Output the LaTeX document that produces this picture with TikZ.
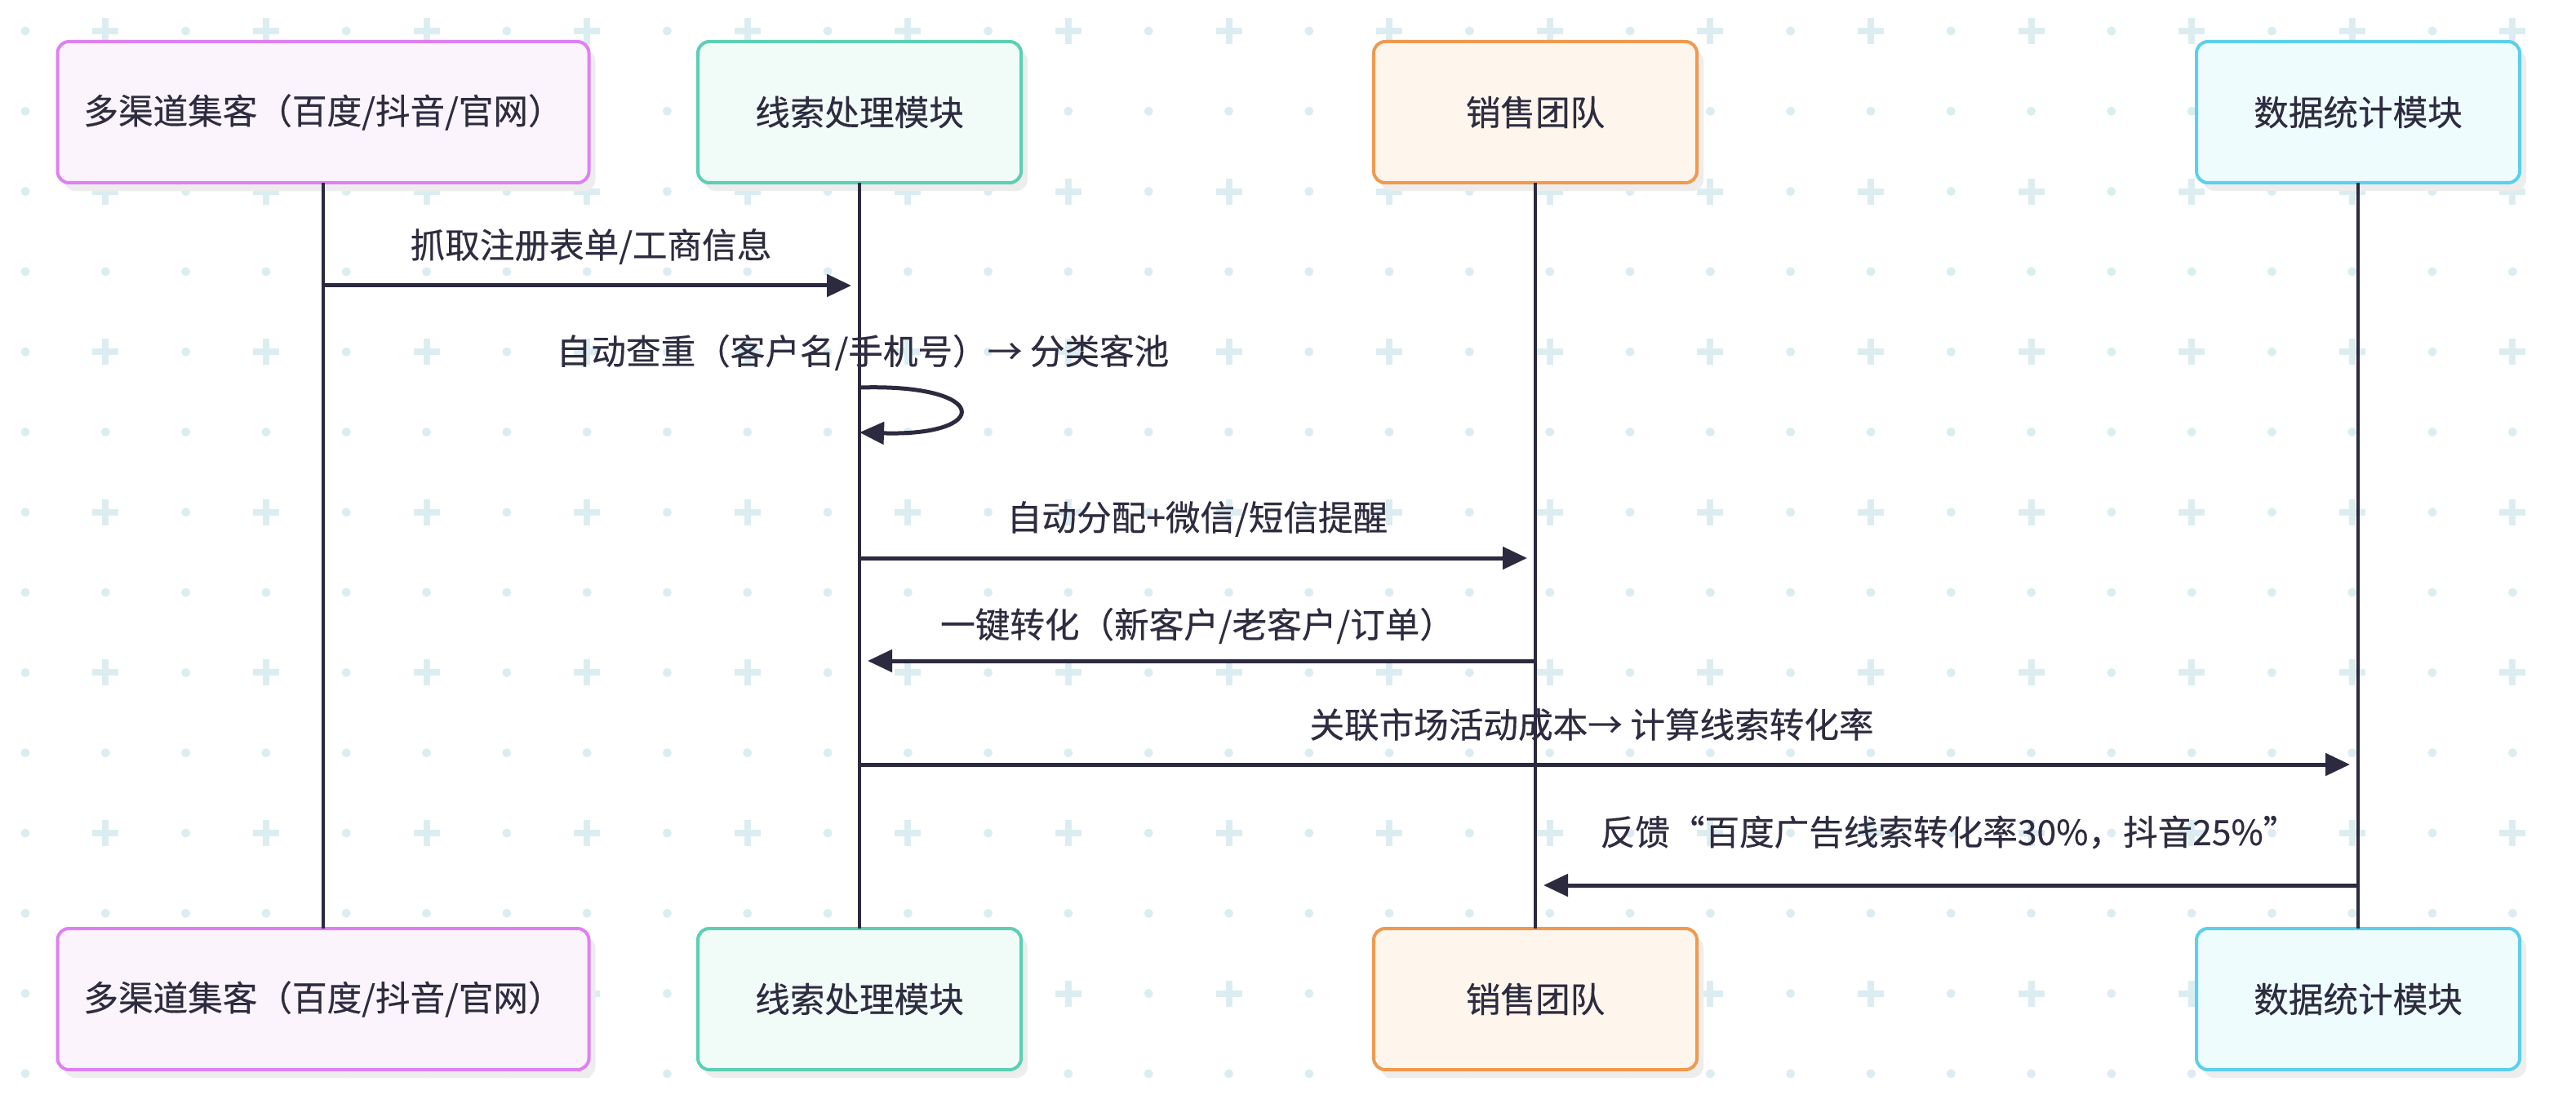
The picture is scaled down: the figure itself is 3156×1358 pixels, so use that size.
\documentclass[tikz,border=0pt]{standalone}
\usepackage{fontspec}
\setmainfont[FakeBold=0.4]{Noto Sans CJK SC}
\usetikzlibrary{arrows.meta}
\definecolor{lnc}{HTML}{2B2A3F}
\definecolor{txt}{HTML}{2E2C40}
\definecolor{dotc}{HTML}{DCEDF1}
\definecolor{shd}{HTML}{EDEDED}
\definecolor{sa}{HTML}{DF80F2}\definecolor{fa}{HTML}{FBF4FC}
\definecolor{sb}{HTML}{5DCFB2}\definecolor{fb}{HTML}{F1FCF8}
\definecolor{sc}{HTML}{EF9A4E}\definecolor{fc}{HTML}{FEF6EC}
\definecolor{sd}{HTML}{5CD0EA}\definecolor{fd}{HTML}{EEFCFE}
\tikzset{
  actor/.style={rounded corners=7pt, line width=2pt, minimum height=86.5pt,
    inner sep=0pt, outer sep=0pt, font=\fontsize{21.3}{25}\selectfont, text=txt},
  wideactor/.style={actor, minimum width=325.5pt},
  narrowactor/.style={actor, minimum width=198pt},
  shadowbox/.style={fill=shd, rounded corners=7pt},
  life/.style={draw=lnc, line width=2pt},
  msg/.style={draw=lnc, line width=2.5pt, -{Triangle[length=15pt,width=13.5pt]}, shorten >=5pt},
  lbl/.style={font=\fontsize{21.3}{25}\selectfont, text=txt, inner sep=0pt}
}
\begin{document}
\begin{tikzpicture}[x=0.5pt,y=-0.5pt]
\useasboundingbox (0,0) rectangle (3156,1358);
\fill[white] (0,0) rectangle (3156,1358);
\foreach \j in {1,3,...,13}{
  \foreach \i in {0,...,31}{
    \fill[dotc] ({31+98.3*\i},{38+98.3*\j}) circle (2.75pt);
  }}
\foreach \j in {0,2,...,12}{
  \foreach \i in {0,2,...,30}{
    \fill[dotc] ({31+98.3*\i},{38+98.3*\j}) circle (2.75pt);
  }
  \foreach \i in {1,3,...,31}{
    \fill[dotc] ([xshift=-8pt,yshift=-2pt]{31+98.3*\i},{38+98.3*\j}) rectangle ([xshift=8pt,yshift=2pt]{31+98.3*\i},{38+98.3*\j});
    \fill[dotc] ([xshift=-2pt,yshift=-8pt]{31+98.3*\i},{38+98.3*\j}) rectangle ([xshift=2pt,yshift=8pt]{31+98.3*\i},{38+98.3*\j});
  }}
\foreach \cx/\w in {396/325.5, 1053/198, 1881/198, 2889/198}{
  \foreach \cy in {137.5, 1224.5}{
    \fill[shadowbox] ([xshift={-\w/2*1pt+4pt}, yshift={-43.25pt-5pt}]\cx,\cy) rectangle ([xshift={\w/2*1pt+4pt}, yshift={43.25pt-5pt}]\cx,\cy);
  }}
\node[wideactor, draw=sa, fill=fa] (a1) at (396,137.5) {多渠道集客（百度/抖音/官网）};
\node[narrowactor, draw=sb, fill=fb] (b1) at (1053,137.5) {线索处理模块};
\node[narrowactor, draw=sc, fill=fc] (c1) at (1881,137.5) {销售团队};
\node[narrowactor, draw=sd, fill=fd] (d1) at (2889,137.5) {数据统计模块};
\node[wideactor, draw=sa, fill=fa] (a2) at (396,1224.5) {多渠道集客（百度/抖音/官网）};
\node[narrowactor, draw=sb, fill=fb] (b2) at (1053,1224.5) {线索处理模块};
\node[narrowactor, draw=sc, fill=fc] (c2) at (1881,1224.5) {销售团队};
\node[narrowactor, draw=sd, fill=fd] (d2) at (2889,1224.5) {数据统计模块};
\draw[life] (a1.south) -- (a2.north);
\draw[life] (b1.south) -- (b2.north);
\draw[life] (c1.south) -- (c2.north);
\draw[life] (d1.south) -- (d2.north);
\coordinate (m1a) at (396,350);  \coordinate (m1b) at (1053,350);
\coordinate (m2a) at (1053,475); \coordinate (m2b) at (1053,530);
\coordinate (m3a) at (1053,684); \coordinate (m3b) at (1881,684);
\coordinate (m4a) at (1881,810); \coordinate (m4b) at (1053,810);
\coordinate (m5a) at (1053,937); \coordinate (m5b) at (2889,937);
\coordinate (m6a) at (2889,1085); \coordinate (m6b) at (1881,1085);
\draw[msg] (m1a) -- (m1b);
\node[lbl] (t1) at (724,302) {抓取注册表单/工商信息};
\draw[msg, shorten >=0pt] (m2a) .. controls (1215,470) and (1215,535) .. (m2b);
\node[lbl] (t2) at (1057,432) {自动查重（客户名/手机号）→ 分类客池};
\draw[msg] (m3a) -- (m3b);
\node[lbl] (t3) at (1467,636) {自动分配+微信/短信提醒};
\draw[msg] (m4a) -- (m4b);
\node[lbl] (t4) at (1467,767) {一键转化（新客户/老客户/订单）};
\draw[msg] (m5a) -- (m5b);
\node[lbl] (t5) at (1950,888) {关联市场活动成本→ 计算线索转化率};
\draw[msg] (m6a) -- (m6b);
\node[lbl] (t6) at (2388,1020) {反馈“百度广告线索转化率30\%，抖音25\%”};
\end{tikzpicture}
\end{document}
